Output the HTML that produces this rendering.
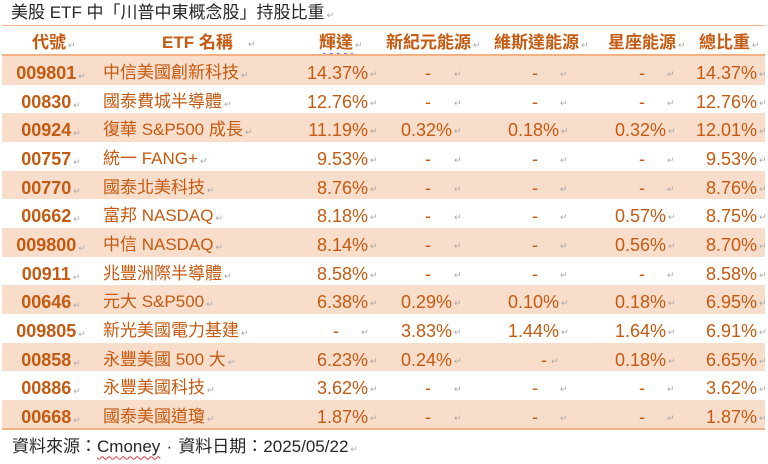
<!DOCTYPE html>
<html lang="zh-TW"><head><meta charset="utf-8"><style>
*{margin:0;padding:0;box-sizing:border-box}
body{width:768px;height:464px;background:#fff;position:relative;overflow:hidden;font-family:"Liberation Sans","Noto Sans CJK TC",sans-serif;}
.t{position:absolute;white-space:nowrap;line-height:28.65px;}
.title{left:11px;top:-1.5px;font-size:17px;color:#262626;}
.foot{left:12px;top:432.5px;font-size:17px;color:#262626;}
.sep{display:inline-block;width:18px;text-align:center;}
.ln{position:absolute;left:2px;width:763px;height:1.6px;background:#F4B183;}
.r{position:absolute;left:2px;width:763px;height:28.65px;}
.s{background:#F9DDCB;}
.r .t,.h .t{top:3px;color:#C55A11;}
.h{position:absolute;left:2px;top:26px;width:763px;height:28.65px;}
.h .t{font-size:17px;font-weight:bold;}
.code{left:1px;width:96px;text-align:center;font-size:18px;font-weight:bold;}
.nm{left:101px;font-size:17px;}
.v{font-size:18px;text-align:right;}
.d{font-size:18px;}
i{font-style:normal;font-size:9px;color:#A8A8A8;font-weight:normal;margin-left:2px;}
.m{position:absolute;font-style:normal;font-size:9px;color:#A8A8A8;top:3px;line-height:30px;}
.wv{text-decoration:underline wavy #6a6af0;text-underline-offset:4px;text-decoration-thickness:1px;}
.wr{text-decoration:underline wavy #e04040;text-underline-offset:4px;text-decoration-thickness:1px;}
</style></head><body>
<div class="t title">美股 ETF 中「川普中東概念股」持股比重<i>↵</i></div>
<div class="ln" style="top:24.5px"></div>
<div class="h">
<div class="t" style="left:30px">代號<i>↵</i></div>
<div class="t" style="left:160px">ETF 名稱</div><span class="m" style="left:246px">↵</span>
<div class="t" style="left:317px"><span class="wv">輝達</span><i>↵</i></div>
<div class="t" style="left:384px">新紀元能源<i>↵</i></div>
<div class="t" style="left:492px">維斯達能源<i>↵</i></div>
<div class="t" style="left:606px">星座能源<i>↵</i></div>
<div class="t" style="left:697px">總比重<i>↵</i></div>
</div>
<div class="ln" style="top:54.4px"></div>

<div class="r s" style="top:56px">
<div class="t code">009801<i>↵</i></div><div class="t nm">中信美國創新科技<i>↵</i></div>
<div class="t v" style="right:397px">14.37%</div><span class="m" style="left:368px">↵</span>
<div class="t d" style="left:423px">-</div><span class="m" style="left:452px">↵</span>
<div class="t d" style="left:530px">-</div><span class="m" style="left:558px">↵</span>
<div class="t d" style="left:637px">-</div><span class="m" style="left:665px">↵</span>
<div class="t v" style="right:8px">14.37%</div><span class="m" style="left:757px">↵</span>
</div>
<div class="r" style="top:84.65px">
<div class="t code">00830<i>↵</i></div><div class="t nm">國泰費城半導體<i>↵</i></div>
<div class="t v" style="right:397px">12.76%</div><span class="m" style="left:368px">↵</span>
<div class="t d" style="left:423px">-</div><span class="m" style="left:452px">↵</span>
<div class="t d" style="left:530px">-</div><span class="m" style="left:558px">↵</span>
<div class="t d" style="left:637px">-</div><span class="m" style="left:665px">↵</span>
<div class="t v" style="right:8px">12.76%</div><span class="m" style="left:757px">↵</span>
</div>
<div class="r s" style="top:113.3px">
<div class="t code">00924<i>↵</i></div><div class="t nm">復華 S&amp;P500 成長<i>↵</i></div>
<div class="t v" style="right:397px">11.19%</div><span class="m" style="left:368px">↵</span>
<div class="t v" style="right:313px">0.32%</div><span class="m" style="left:452px">↵</span>
<div class="t v" style="right:206px">0.18%</div><span class="m" style="left:559px">↵</span>
<div class="t v" style="right:99px">0.32%</div><span class="m" style="left:666px">↵</span>
<div class="t v" style="right:8px">12.01%</div><span class="m" style="left:757px">↵</span>
</div>
<div class="r" style="top:141.95px">
<div class="t code">00757<i>↵</i></div><div class="t nm">統一 FANG+<i>↵</i></div>
<div class="t v" style="right:397px">9.53%</div><span class="m" style="left:368px">↵</span>
<div class="t d" style="left:423px">-</div><span class="m" style="left:452px">↵</span>
<div class="t d" style="left:530px">-</div><span class="m" style="left:558px">↵</span>
<div class="t d" style="left:637px">-</div><span class="m" style="left:665px">↵</span>
<div class="t v" style="right:8px">9.53%</div><span class="m" style="left:757px">↵</span>
</div>
<div class="r s" style="top:170.6px">
<div class="t code">00770<i>↵</i></div><div class="t nm">國泰北美科技<i>↵</i></div>
<div class="t v" style="right:397px">8.76%</div><span class="m" style="left:368px">↵</span>
<div class="t d" style="left:423px">-</div><span class="m" style="left:452px">↵</span>
<div class="t d" style="left:530px">-</div><span class="m" style="left:558px">↵</span>
<div class="t d" style="left:637px">-</div><span class="m" style="left:665px">↵</span>
<div class="t v" style="right:8px">8.76%</div><span class="m" style="left:757px">↵</span>
</div>
<div class="r" style="top:199.25px">
<div class="t code">00662<i>↵</i></div><div class="t nm">富邦 NASDAQ<i>↵</i></div>
<div class="t v" style="right:397px">8.18%</div><span class="m" style="left:368px">↵</span>
<div class="t d" style="left:423px">-</div><span class="m" style="left:452px">↵</span>
<div class="t d" style="left:530px">-</div><span class="m" style="left:558px">↵</span>
<div class="t v" style="right:99px">0.57%</div><span class="m" style="left:666px">↵</span>
<div class="t v" style="right:8px">8.75%</div><span class="m" style="left:757px">↵</span>
</div>
<div class="r s" style="top:227.9px">
<div class="t code">009800<i>↵</i></div><div class="t nm">中信 NASDAQ<i>↵</i></div>
<div class="t v" style="right:397px">8.14%</div><span class="m" style="left:368px">↵</span>
<div class="t d" style="left:423px">-</div><span class="m" style="left:452px">↵</span>
<div class="t d" style="left:530px">-</div><span class="m" style="left:558px">↵</span>
<div class="t v" style="right:99px">0.56%</div><span class="m" style="left:666px">↵</span>
<div class="t v" style="right:8px">8.70%</div><span class="m" style="left:757px">↵</span>
</div>
<div class="r" style="top:256.55px">
<div class="t code">00911<i>↵</i></div><div class="t nm">兆豐洲際半導體<i>↵</i></div>
<div class="t v" style="right:397px">8.58%</div><span class="m" style="left:368px">↵</span>
<div class="t d" style="left:423px">-</div><span class="m" style="left:452px">↵</span>
<div class="t d" style="left:530px">-</div><span class="m" style="left:558px">↵</span>
<div class="t d" style="left:637px">-</div><span class="m" style="left:665px">↵</span>
<div class="t v" style="right:8px">8.58%</div><span class="m" style="left:757px">↵</span>
</div>
<div class="r s" style="top:285.2px">
<div class="t code">00646<i>↵</i></div><div class="t nm">元大 S&amp;P500<i>↵</i></div>
<div class="t v" style="right:397px">6.38%</div><span class="m" style="left:368px">↵</span>
<div class="t v" style="right:313px">0.29%</div><span class="m" style="left:452px">↵</span>
<div class="t v" style="right:206px">0.10%</div><span class="m" style="left:559px">↵</span>
<div class="t v" style="right:99px">0.18%</div><span class="m" style="left:666px">↵</span>
<div class="t v" style="right:8px">6.95%</div><span class="m" style="left:757px">↵</span>
</div>
<div class="r" style="top:313.85px">
<div class="t code">009805<i>↵</i></div><div class="t nm">新光美國電力基建<i>↵</i></div>
<div class="t d" style="left:331px">-</div><span class="m" style="left:359px">↵</span>
<div class="t v" style="right:313px">3.83%</div><span class="m" style="left:452px">↵</span>
<div class="t v" style="right:206px">1.44%</div><span class="m" style="left:559px">↵</span>
<div class="t v" style="right:99px">1.64%</div><span class="m" style="left:666px">↵</span>
<div class="t v" style="right:8px">6.91%</div><span class="m" style="left:757px">↵</span>
</div>
<div class="r s" style="top:342.5px">
<div class="t code">00858<i>↵</i></div><div class="t nm">永豐美國 500 大<i>↵</i></div>
<div class="t v" style="right:397px">6.23%</div><span class="m" style="left:368px">↵</span>
<div class="t v" style="right:313px">0.24%</div><span class="m" style="left:452px">↵</span>
<div class="t d" style="left:539px">-</div><span class="m" style="left:549px">↵</span>
<div class="t v" style="right:99px">0.18%</div><span class="m" style="left:666px">↵</span>
<div class="t v" style="right:8px">6.65%</div><span class="m" style="left:757px">↵</span>
</div>
<div class="r" style="top:371.15px">
<div class="t code">00886<i>↵</i></div><div class="t nm">永豐美國科技<i>↵</i></div>
<div class="t v" style="right:397px">3.62%</div><span class="m" style="left:368px">↵</span>
<div class="t d" style="left:423px">-</div><span class="m" style="left:452px">↵</span>
<div class="t d" style="left:530px">-</div><span class="m" style="left:558px">↵</span>
<div class="t d" style="left:637px">-</div><span class="m" style="left:665px">↵</span>
<div class="t v" style="right:8px">3.62%</div><span class="m" style="left:757px">↵</span>
</div>
<div class="r s" style="top:399.8px">
<div class="t code">00668<i>↵</i></div><div class="t nm">國泰美國道瓊<i>↵</i></div>
<div class="t v" style="right:397px">1.87%</div><span class="m" style="left:368px">↵</span>
<div class="t d" style="left:423px">-</div><span class="m" style="left:452px">↵</span>
<div class="t d" style="left:530px">-</div><span class="m" style="left:558px">↵</span>
<div class="t d" style="left:637px">-</div><span class="m" style="left:665px">↵</span>
<div class="t v" style="right:8px">1.87%</div><span class="m" style="left:757px">↵</span>
</div>
<div class="ln" style="top:428.4px"></div>
<div class="t foot">資料來源：<span class="wr">Cmoney</span><span class="sep">·</span>資料日期：2025/05/22<i>↵</i></div>
</body></html>
